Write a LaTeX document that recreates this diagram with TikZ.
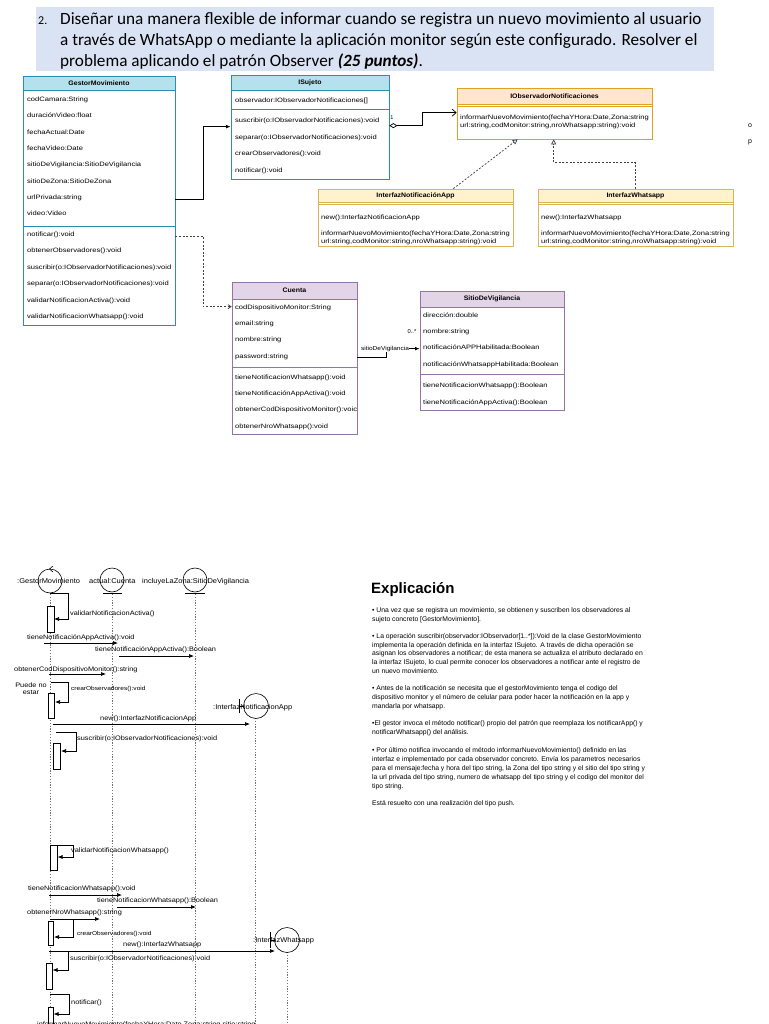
\documentclass[tikz,border=0pt]{standalone}
\usepackage{fontspec}
\setmainfont{Liberation Sans}
\newfontfamily\calib{Carlito}
\usetikzlibrary{arrows.meta,fit}
\definecolor{hdrbg}{HTML}{DAE3F3}
\definecolor{cyF}{HTML}{B4E1EC}
\definecolor{cyB}{HTML}{2A8DB3}
\definecolor{orF}{HTML}{FFE6CC}
\definecolor{orB}{HTML}{E0A020}
\definecolor{yeF}{HTML}{FFF2CC}
\definecolor{yeB}{HTML}{D6B656}
\definecolor{puF}{HTML}{E1D5E7}
\definecolor{puB}{HTML}{9673A6}
\definecolor{lifeC}{HTML}{707070}
\newcommand\umlclass[8]{%
  \node[fit={(#2,#3) (#4,#5)}, inner sep=0pt, draw=#8, line width=.7pt, fill=white] (#1) {};
  \filldraw[fill=#7, draw=#8, line width=.7pt] (#2,#3) rectangle (#4,#6);}
\newcommand\ct[4]{\node[ctxt] (#1) at (#2,{#3+2.2}) {\scalebox{1.2}[1]{#4}};}
\newcommand\hs[1]{\scalebox{1.13}[1]{#1}}
\newcommand\ts[1]{\scalebox{1.07}[1]{#1}}
\newcommand\et[3]{\node[etxt] (#1) at (372,#2) {#3};}
\begin{document}
\begin{tikzpicture}[x=1pt,y=-1pt,
  ctxt/.style={anchor=base west, inner sep=0pt, font=\fontsize{6.3}{7}\selectfont},
  ctitle/.style={inner sep=0pt, font=\fontsize{6.5}{7}\selectfont\bfseries},
  hdr/.style={anchor=base west, inner sep=0pt, font=\calib\fontsize{17.2}{19}\selectfont},
  etxt/.style={anchor=base west, inner sep=0pt, font=\fontsize{6.8}{8}\selectfont},
  stxt/.style={anchor=base west, inner sep=0pt, font=\fontsize{6.5}{7}\selectfont},
  stxts/.style={anchor=base west, inner sep=0pt, font=\fontsize{5.8}{7}\selectfont},
  conn/.style={line width=.7pt, draw=black},
  dconn/.style={line width=.7pt, draw=black!75, dash pattern=on 2pt off 1.6pt},
  msg/.style={line width=.7pt, -{Latex[length=5pt,width=4pt]}},
  life/.style={line width=.6pt, draw=lifeC, dash pattern=on 1.2pt off 1.6pt},
  actv/.style={draw=black, fill=white, line width=.7pt},
  icon/.style={draw=black, line width=.6pt}]
\useasboundingbox[fill=white] (0,0) rectangle (768,1024);

% ---------- header ----------
\fill[hdrbg] (36,7) rectangle (714,71);
\node[anchor=base west, inner sep=0pt, font=\calib\fontsize{12}{14}\selectfont] (num) at (38,25) {2.};
\node[hdr] (h1) at (60,25) {Diseñar una manera flexible de informar cuando se registra un nuevo movimiento al usuario};
\node[hdr] (h2) at (60,46) {a través de WhatsApp o mediante la aplicación monitor según este configurado. Resolver el};
\node[hdr] (h3) at (60,67) {problema aplicando el patrón Observer \textbf{\textit{(25 puntos)}}.};

% ---------- GestorMovimiento ----------
\umlclass{gestor}{23}{76}{175}{325}{90}{cyF}{cyB}
\node[ctitle] (gestorT) at (99,83.5) {\ts{GestorMovimiento}};
\ct{g1}{27}{99}{codCamara:String}
\ct{g2}{27}{115}{duraciónVideo:float}
\ct{g3}{27}{132}{fechaActual:Date}
\ct{g4}{27}{148}{fechaVideo:Date}
\ct{g5}{27}{164}{sitioDeVigilancia:SitioDeVigilancia}
\ct{g6}{27}{181}{sitioDeZona:SitioDeZona}
\ct{g7}{27}{197}{urlPrivada:string}
\ct{g8}{27}{213}{video:Video}
\draw[cyB, line width=.7pt] (23,226) -- (175,226);
\ct{g9}{27}{234}{notificar():void}
\ct{g10}{27}{250}{obtenerObservadores():void}
\ct{g11}{27}{267}{suscribir(o:IObservadorNotificaciones):void}
\ct{g12}{27}{283}{separar(o:IObservadorNotificaciones):void}
\ct{g13}{27}{300}{validarNotificacionActiva():void}
\ct{g14}{27}{316}{validarNotificacionWhatsapp():void}

% ---------- ISujeto ----------
\umlclass{isuj}{231}{75}{389}{179}{90}{cyF}{cyB}
\node[ctitle] (isujT) at (310,82.5) {\ts{ISujeto}};
\ct{s1}{235}{100}{observador:IObservadorNotificaciones[]}
\draw[cyB, line width=.7pt] (231,109) -- (389,109);
\ct{s2}{235}{120}{suscribir(o:IObservadorNotificaciones):void}
\ct{s3}{235}{137}{separar(o:IObservadorNotificaciones):void}
\ct{s4}{235}{153}{crearObservadores():void}
\ct{s5}{235}{170}{notificar():void}

% ---------- IObservadorNotificaciones ----------
\umlclass{iobs}{457}{88}{652}{139}{104}{orF}{orB}
\draw[orB, line width=.7pt] (457,106.5) -- (652,106.5);
\node[ctitle] (iobsT) at (554.5,96) {\ts{IObservadorNotificaciones}};
\ct{o1}{460}{117.5}{informarNuevoMovimiento(fechaYHora:Date,Zona:string}
\ct{o2}{460}{125}{url:string,codMonitor:string,nroWhatsapp:string):void}
\node[ctxt, font=\fontsize{7}{8}\selectfont] (cutO) at (748,128) {o};
\node[ctxt, font=\fontsize{7}{8}\selectfont] (cutP) at (748,144) {p};

% ---------- InterfazNotificaciónApp ----------
\umlclass{iapp}{318}{189}{513}{246}{202}{yeF}{yeB}
\draw[yeB, line width=.7pt] (318,204.5) -- (513,204.5);
\node[ctitle] (iappT) at (415.5,196) {\ts{InterfazNotificaciónApp}};
\ct{a1}{321}{217}{new():InterfazNotificacionApp}
\ct{a2}{321}{233}{informarNuevoMovimiento(fechaYHora:Date,Zona:string}
\ct{a3}{321}{241}{url:string,codMonitor:string,nroWhatsapp:string):void}

% ---------- InterfazWhatsapp ----------
\umlclass{iwsp}{538}{189}{733}{246}{202}{yeF}{yeB}
\draw[yeB, line width=.7pt] (538,204.5) -- (733,204.5);
\node[ctitle] (iwspT) at (635.5,196) {\ts{InterfazWhatsapp}};
\ct{w1}{541}{217}{new():InterfazWhatsapp}
\ct{w2}{541}{233}{informarNuevoMovimiento(fechaYHora:Date,Zona:string}
\ct{w3}{541}{241}{url:string,codMonitor:string,nroWhatsapp:string):void}

% ---------- Cuenta ----------
\umlclass{cuenta}{232}{282}{357}{434}{299}{puF}{puB}
\node[ctitle] (cuentaT) at (294.5,290.5) {\ts{Cuenta}};
\ct{c1}{235}{307}{codDispositivoMonitor:String}
\ct{c2}{235}{323}{email:string}
\ct{c3}{235}{339}{nombre:string}
\ct{c4}{235}{356}{password:string}
\draw[puB, line width=.7pt] (232,367) -- (357,367);
\ct{c5}{235}{377}{tieneNotificacionWhatsapp():void}
\ct{c6}{235}{393}{tieneNotificaciónAppActiva():void}
\ct{c7}{235}{409}{obtenerCodDispositivoMonitor():voic}
\ct{c8}{235}{426}{obtenerNroWhatsapp():void}

% ---------- SitioDeVigilancia ----------
\umlclass{sitio}{420}{291}{564}{410}{307}{puF}{puB}
\node[ctitle] (sitioT) at (492,299) {\ts{SitioDeVigilancia}};
\ct{v1}{423}{315}{dirección:double}
\ct{v2}{423}{331}{nombre:string}
\ct{v3}{423}{347}{notificaciónAPPHabilitada:Boolean}
\ct{v4}{423}{364}{notificaciónWhatsappHabilitada:Boolean}
\draw[puB, line width=.7pt] (420,374) -- (564,374);
\ct{v5}{423}{385}{tieneNotificacionWhatsapp():Boolean}
\ct{v6}{423}{402}{tieneNotificaciónAppActiva():Boolean}

% ---------- class connectors ----------
\coordinate (gA) at (gestor.east |- g7);
\coordinate (gB) at (gestor.east |- g9);
\draw[conn, -{Latex[length=4.5pt,width=3.5pt]}] ([yshift=-2pt]gA) -- ++(28,0) |- ([yshift=-52pt]isuj.north west) ;
\draw[dconn, -{Straight Barb[length=3pt,width=4pt]}] ([yshift=-2pt]gB) -- ++(28,0) |- ([yshift=-25pt]cuenta.north west);
\draw[conn, {Diamond[open,length=8pt,width=5pt]}-{Straight Barb[length=4pt,width=7pt]}] ([yshift=-51pt]isuj.north east) -- ++(33,0) |- ([yshift=-25pt]iobs.north west);
\node[inner sep=0pt, font=\fontsize{5.5}{6}\selectfont] (one) at (392,118) {1};
\draw[dconn, -{Triangle[open,length=5pt,width=5pt]}] ([xshift=-60pt]iapp.north east) -- ([xshift=61pt]iobs.south west);
\draw[dconn, -{Triangle[open,length=5pt,width=5pt]}] (iwsp.north) -- ++(0,-26) -| ([xshift=97pt]iobs.south west);
\draw[conn, -{Latex[length=4.5pt,width=3.5pt]}] ([yshift=-76pt]cuenta.north east) -- ++(29,0) |- ([yshift=-58pt]sitio.north west);
\node[fill=white, inner sep=0.5pt, font=\fontsize{5.8}{6}\selectfont] (assocL) at (385,349) {\hs{sitioDeVigilancia}};
\node[inner sep=0pt, font=\fontsize{5.8}{6}\selectfont] (mult) at (412,332) {0..*};

% ---------- sequence diagram ----------
\coordinate (LGt) at (50,594);  \coordinate (LGb) at (50,1030);
\coordinate (LCt) at (112,594); \coordinate (LCb) at (112,1030);
\coordinate (LSt) at (195,594); \coordinate (LSb) at (195,1030);
\coordinate (LAt) at (255,718); \coordinate (LAb) at (255,1030);
\coordinate (LWt) at (287,952); \coordinate (LWb) at (287,1030);
\draw[life] (LGt) -- (LGb);
\draw[life] (LCt) -- (LCb);
\draw[life] (LSt) -- (LSb);
\draw[life] (LAt) -- (LAb);
\draw[life] (LWt) -- (LWb);

% heads
\draw[icon] (50,581) circle (12);
\draw[icon] (53,566) -- (49.5,569) -- (53,572);
\draw[icon] (112,580) circle (12);
\draw[icon] (103,593) -- (122,593);
\draw[icon] (195,580) circle (12);
\draw[icon] (185,593) -- (205,593);
\draw[icon] (256,706) circle (12.5);
\draw[icon] (239,699) -- (239,713);
\draw[icon] (239,706) -- (243.5,706);
\draw[icon] (287,940) circle (12.5);
\draw[icon] (270,932) -- (270,948);
\draw[icon] (270,940) -- (274.5,940);
\node[stxt, font=\fontsize{7}{8}\selectfont] (hG) at (17,583) {\ts{:GestorMovimiento}};
\node[stxt, font=\fontsize{7}{8}\selectfont] (hC) at (89,583) {\ts{actual:Cuenta}};
\node[stxt, font=\fontsize{7}{8}\selectfont] (hS) at (142,583) {\ts{incluyeLaZona:SitioDeVigilancia}};
\node[stxt, font=\fontsize{7}{8}\selectfont] (hA) at (213,709) {\ts{:InterfazNotificacionApp}};
\node[stxt, font=\fontsize{7}{8}\selectfont] (hW) at (253,942) {\ts{:InterfazWhatsapp}};

% activations
\draw[actv] (47.5,606) rectangle (54,632);
\draw[actv] (48,693) rectangle (54,718);
\draw[actv] (53,743) rectangle (60,769);
\draw[actv] (50,845) rectangle (57,870);
\draw[actv] (48,921) rectangle (53,945);
\draw[actv] (46,963) rectangle (52,989);
\draw[actv] (48,1007) rectangle (53,1032);

% messages
\draw[msg] (50,593) -- (68,593) -- (68,619) -- (54,619);
\node[stxt] (m1) at (70,615) {\hs{validarNotificacionActiva()}};
\draw[msg] (44,643) -- (118,643);
\node[stxt] (m2) at (27,639) {\hs{tieneNotificaciónAppActiva():void}};
\draw[msg] (119,656) -- (194,656);
\node[stxt] (m3) at (95,651) {\hs{tieneNotificaciónAppActiva():Boolean}};
\draw[msg] (49,674) -- (106,674);
\node[stxt] (m4) at (14,671) {\hs{obtenerCodDispositivoMonitor():string}};
\node[inner sep=0pt, font=\fontsize{6.5}{7}\selectfont, align=center] (note) at (31,689) {\hs{Puede no}\\\hs{estar}};
\draw[msg] (51,682) -- (68,682) -- (68,702) -- (55,702);
\node[stxts] (m5) at (71,690) {\hs{crearObservadores():void}};
\draw[msg] (53,724) -- (250,724);
\node[stxt] (m6) at (100,720) {\hs{new():InterfazNotificacionApp}};
\draw[msg] (56,732) -- (76,732) -- (76,751) -- (61,751);
\node[stxt] (m7) at (77,740) {\hs{suscribir(o:IObservadorNotificaciones):void}};
\draw[msg] (57,845) -- (73,845) -- (73,857) -- (57.5,857);
\node[stxt] (m8) at (71,852) {\hs{validarNotificacionWhatsapp()}};
\draw[msg] (49,895) -- (122,895);
\node[stxt] (m9) at (28,890) {\hs{tieneNotificacionWhatsapp():void}};
\draw[msg] (117,907) -- (196,907);
\node[stxt] (m10) at (97,902) {\hs{tieneNotificacionWhatsapp():Boolean}};
\draw[msg] (50,919) -- (100,919);
\node[stxt] (m11) at (27,914) {\hs{obtenerNroWhatsapp():string}};
\draw[msg] (53,919) -- (73,919) -- (73,937) -- (54,937);
\node[stxts] (m12) at (77,935) {\hs{crearObservadores():void}};
\draw[msg] (49,951) -- (275,951);
\node[stxt] (m13) at (123,946) {\hs{new():InterfazWhatsapp}};
\draw[msg] (68,951) -- (68,970) -- (52.5,970);
\node[stxt] (m14) at (70,960) {\hs{suscribir(o:IObservadorNotificaciones):void}};
\draw[msg] (50,994) -- (69,994) -- (69,1014) -- (53.5,1014);
\node[stxt] (m15) at (71,1004) {\hs{notificar()}};
\node[stxt] (m16) at (37,1026.5) {\hs{informarNuevoMovimiento(fechaYHora:Date,Zona:string,sitio:string}};

% ---------- Explicación ----------
\node[anchor=base west, inner sep=0pt, font=\fontsize{15}{17}\selectfont\bfseries] (expT) at (371,593) {Explicación};
\et{e1}{612}{• Una vez que se registra un movimiento, se obtienen y suscriben los observadores al}
\et{e2}{621}{sujeto concreto [GestorMovimiento].}
\et{e3}{638}{• La operación suscribir(observador:IObservador[1..*]):Void de la clase GestorMovimiento}
\et{e4}{647}{implementa la operación definida en la interfaz ISujeto. A través de dicha operación se}
\et{e5}{655.5}{asignan los observadores a notificar; de esta manera se actualiza el atributo declarado en}
\et{e6}{664.5}{la interfaz ISujeto, lo cual permite conocer los observadores a notificar ante el registro de}
\et{e7}{673}{un nuevo movimiento.}
\et{e8}{690}{• Antes de la notificación se necesita que el gestorMovimiento tenga el codigo del}
\et{e9}{699}{dispositivo monitor y el número de celular para poder hacer la notificación en la app y}
\et{e10}{708}{mandarla por whatsapp.}
\et{e11}{725}{•El gestor invoca el método notificar() propio del patrón que reemplaza los notificarApp() y}
\et{e12}{734}{notificarWhatsapp() del análisis.}
\et{e13}{752}{• Por último notifica invocando el método informarNuevoMovimiento() definido en las}
\et{e14}{761}{interfaz e implementado por cada observador concreto. Envía los parametros necesarios}
\et{e15}{770}{para el mensaje:fecha y hora del tipo string, la Zona del tipo string y el sitio del tipo string y}
\et{e16}{779}{la url privada del tipo string, numero de whatsapp del tipo string y el codigo del monitor del}
\et{e17}{788}{tipo string.}
\et{e18}{805}{Está resuelto con una realización del tipo push.}
\end{tikzpicture}
\end{document}
